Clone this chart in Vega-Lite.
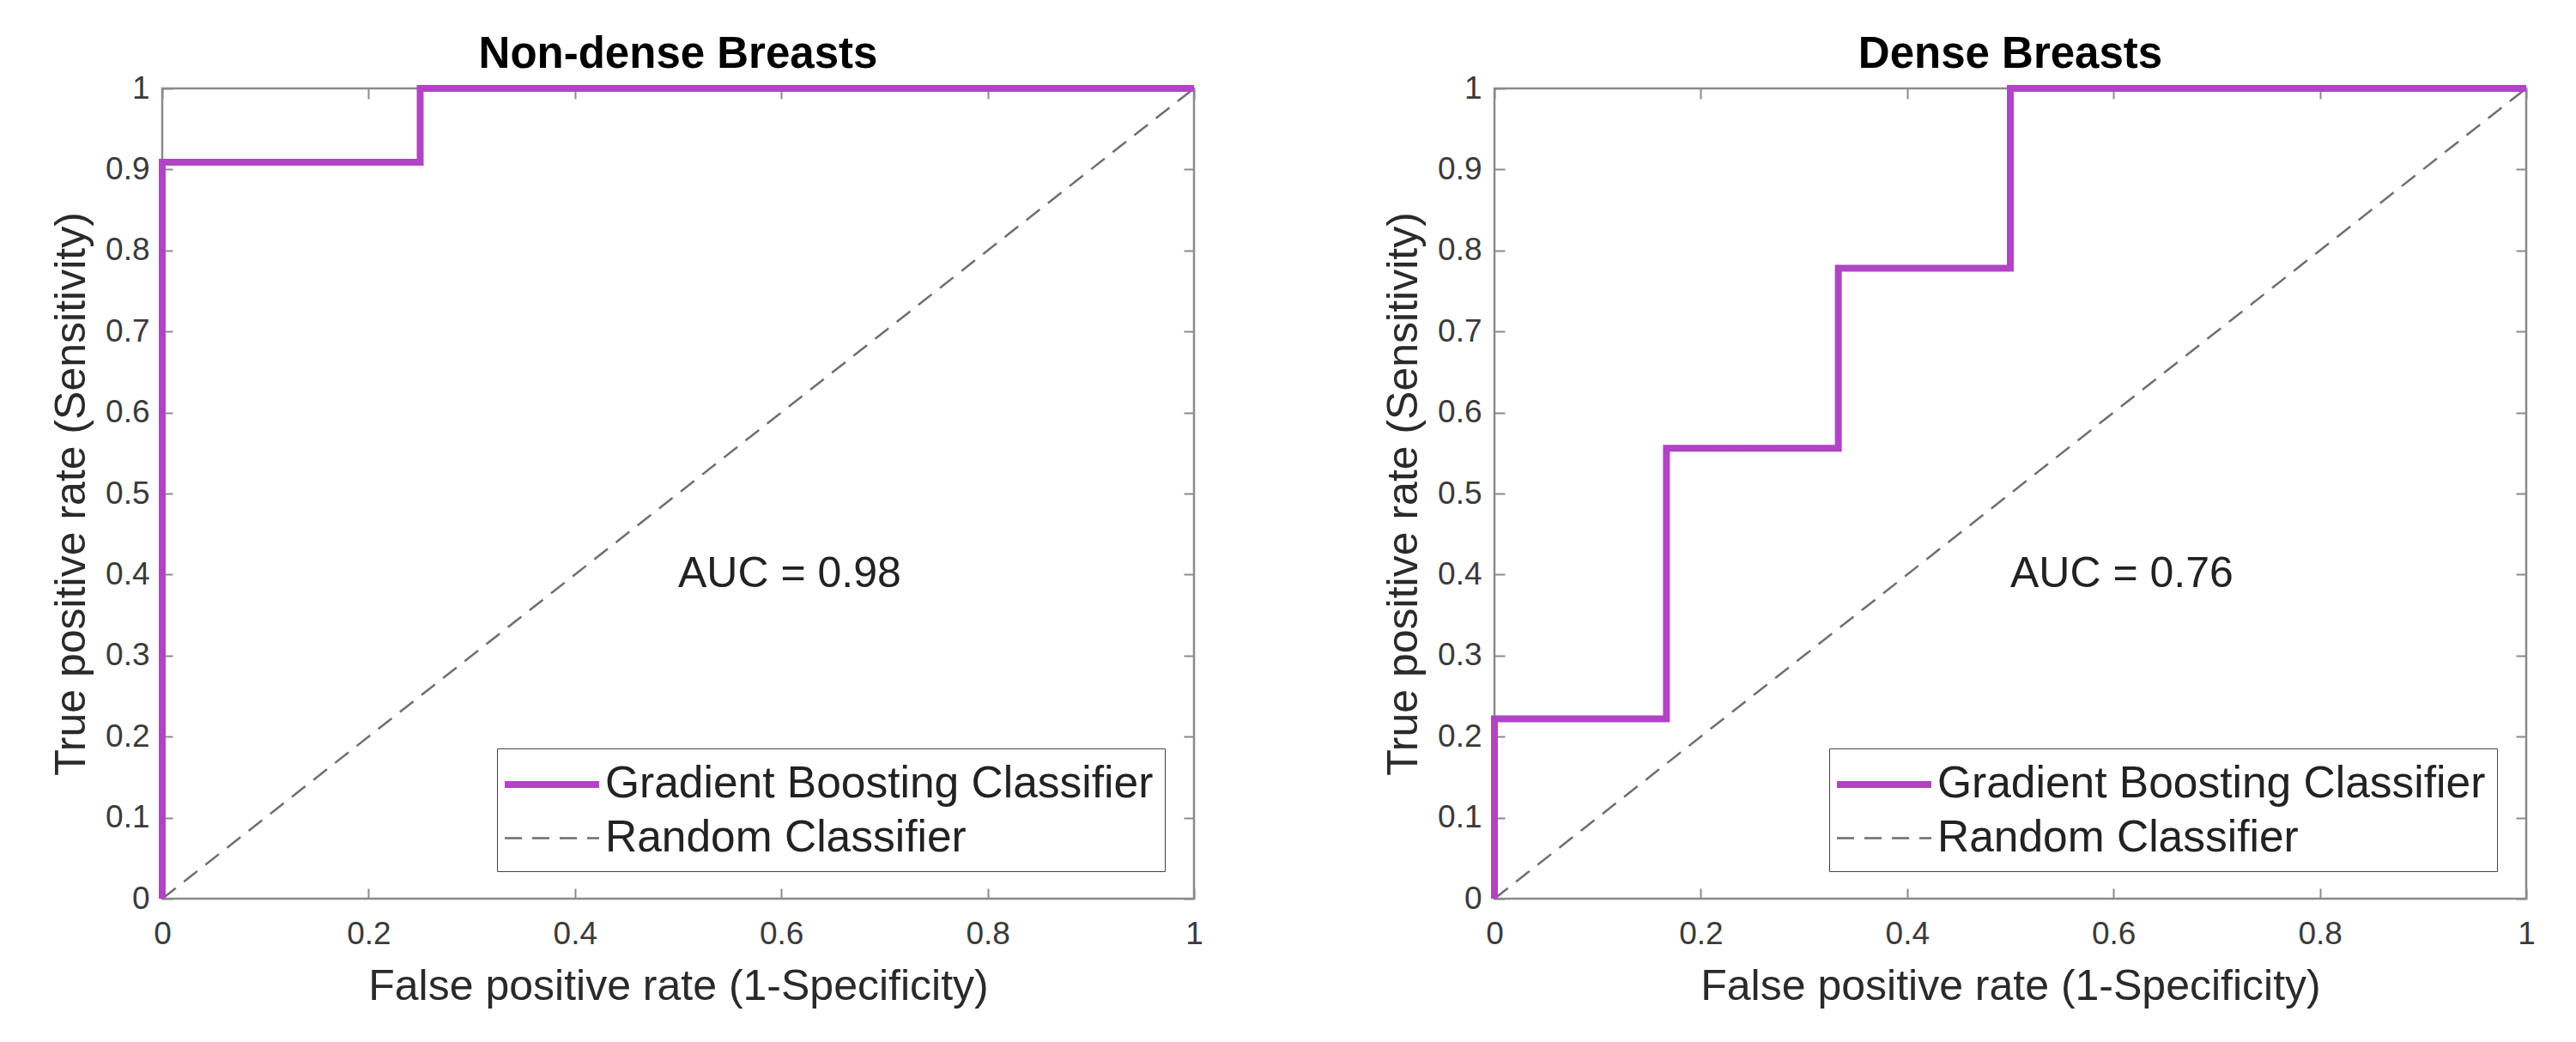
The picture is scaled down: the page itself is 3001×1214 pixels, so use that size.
{
  "$schema": "https://vega.github.io/schema/vega-lite/v6.json",
  "background": "white",
  "padding": {"left": 57, "top": 36, "right": 0, "bottom": 0},
  "datasets": {
    "nondense": [
      {"fpr": 0, "tpr": 0, "step": 0, "series": "Gradient Boosting Classifier"},
      {"fpr": 0, "tpr": 0.909, "step": 1, "series": "Gradient Boosting Classifier"},
      {"fpr": 0.25, "tpr": 0.909, "step": 2, "series": "Gradient Boosting Classifier"},
      {"fpr": 0.25, "tpr": 1, "step": 3, "series": "Gradient Boosting Classifier"},
      {"fpr": 1, "tpr": 1, "step": 4, "series": "Gradient Boosting Classifier"}
    ],
    "dense": [
      {"fpr": 0, "tpr": 0, "step": 0, "series": "Gradient Boosting Classifier"},
      {"fpr": 0, "tpr": 0.222, "step": 1, "series": "Gradient Boosting Classifier"},
      {"fpr": 0.1667, "tpr": 0.222, "step": 2, "series": "Gradient Boosting Classifier"},
      {"fpr": 0.1667, "tpr": 0.556, "step": 3, "series": "Gradient Boosting Classifier"},
      {"fpr": 0.3333, "tpr": 0.556, "step": 4, "series": "Gradient Boosting Classifier"},
      {"fpr": 0.3333, "tpr": 0.778, "step": 5, "series": "Gradient Boosting Classifier"},
      {"fpr": 0.5, "tpr": 0.778, "step": 6, "series": "Gradient Boosting Classifier"},
      {"fpr": 0.5, "tpr": 1, "step": 7, "series": "Gradient Boosting Classifier"},
      {"fpr": 1, "tpr": 1, "step": 8, "series": "Gradient Boosting Classifier"}
    ],
    "diag": [
      {"fpr": 0, "tpr": 0, "step": 0, "series": "Random Classifier"},
      {"fpr": 1, "tpr": 1, "step": 1, "series": "Random Classifier"}
    ],
    "auc_nondense": [{"fpr": 0.5, "tpr": 0.4, "label": "AUC = 0.98"}],
    "auc_dense": [{"fpr": 0.5, "tpr": 0.4, "label": "AUC = 0.76"}]
  },
  "spacing": 200,
  "hconcat": [
    {
      "width": 1202,
      "height": 944,
      "title": "Non-dense Breasts",
      "resolve": {"axis": {"x": "independent", "y": "independent"}},
      "layer": [
        {
          "data": {"name": "diag"},
          "mark": {"type": "line"},
          "encoding": {
            "x": {"field": "fpr", "type": "quantitative", "scale": {"domain": [0, 1], "nice": false},
                  "axis": {"orient": "top", "labels": false, "title": null, "values": [0, 0.2, 0.4, 0.6, 0.8, 1]}},
            "y": {"field": "tpr", "type": "quantitative", "scale": {"domain": [0, 1], "nice": false},
                  "axis": {"orient": "right", "labels": false, "title": null, "values": [0, 0.1, 0.2, 0.3, 0.4, 0.5, 0.6, 0.7, 0.8, 0.9, 1]}},
            "order": {"field": "step"},
            "color": {"field": "series", "type": "nominal", "scale": {"domain": ["Gradient Boosting Classifier", "Random Classifier"], "range": ["#b044c4", "#6e6e6e"]}},
            "strokeDash": {"field": "series", "type": "nominal", "scale": {"domain": ["Gradient Boosting Classifier", "Random Classifier"], "range": [[1, 0], [20, 12]]}},
            "strokeWidth": {"field": "series", "type": "nominal", "scale": {"domain": ["Gradient Boosting Classifier", "Random Classifier"], "range": [8, 2.5]}}
          }
        },
        {
          "data": {"name": "nondense"},
          "mark": {"type": "line"},
          "encoding": {
            "x": {"field": "fpr", "type": "quantitative", "scale": {"domain": [0, 1], "nice": false},
                  "axis": {"orient": "bottom", "format": "~g", "title": "False positive rate (1-Specificity)", "values": [0, 0.2, 0.4, 0.6, 0.8, 1]}},
            "y": {"field": "tpr", "type": "quantitative", "scale": {"domain": [0, 1], "nice": false},
                  "axis": {"orient": "left", "format": "~g", "title": "True positive rate (Sensitivity)", "values": [0, 0.1, 0.2, 0.3, 0.4, 0.5, 0.6, 0.7, 0.8, 0.9, 1]}},
            "order": {"field": "step"},
            "color": {"field": "series", "type": "nominal", "scale": {"domain": ["Gradient Boosting Classifier", "Random Classifier"], "range": ["#b044c4", "#6e6e6e"]}},
            "strokeDash": {"field": "series", "type": "nominal", "scale": {"domain": ["Gradient Boosting Classifier", "Random Classifier"], "range": [[1, 0], [20, 12]]}},
            "strokeWidth": {"field": "series", "type": "nominal", "scale": {"domain": ["Gradient Boosting Classifier", "Random Classifier"], "range": [8, 2.5]}}
          }
        },
        {
          "data": {"name": "auc_nondense"},
          "mark": {"type": "text", "align": "left", "baseline": "middle", "fontSize": 50, "font": "Liberation Sans", "color": "#222222"},
          "encoding": {
            "x": {"field": "fpr", "type": "quantitative", "axis": null},
            "y": {"field": "tpr", "type": "quantitative", "axis": null},
            "text": {"field": "label"}
          }
        }
      ]
    },
    {
      "width": 1202,
      "height": 944,
      "title": "Dense Breasts",
      "resolve": {"axis": {"x": "independent", "y": "independent"}},
      "layer": [
        {
          "data": {"name": "diag"},
          "mark": {"type": "line"},
          "encoding": {
            "x": {"field": "fpr", "type": "quantitative", "scale": {"domain": [0, 1], "nice": false},
                  "axis": {"orient": "top", "labels": false, "title": null, "values": [0, 0.2, 0.4, 0.6, 0.8, 1]}},
            "y": {"field": "tpr", "type": "quantitative", "scale": {"domain": [0, 1], "nice": false},
                  "axis": {"orient": "right", "labels": false, "title": null, "values": [0, 0.1, 0.2, 0.3, 0.4, 0.5, 0.6, 0.7, 0.8, 0.9, 1]}},
            "order": {"field": "step"},
            "color": {"field": "series", "type": "nominal", "scale": {"domain": ["Gradient Boosting Classifier", "Random Classifier"], "range": ["#b044c4", "#6e6e6e"]}},
            "strokeDash": {"field": "series", "type": "nominal", "scale": {"domain": ["Gradient Boosting Classifier", "Random Classifier"], "range": [[1, 0], [20, 12]]}},
            "strokeWidth": {"field": "series", "type": "nominal", "scale": {"domain": ["Gradient Boosting Classifier", "Random Classifier"], "range": [8, 2.5]}}
          }
        },
        {
          "data": {"name": "dense"},
          "mark": {"type": "line"},
          "encoding": {
            "x": {"field": "fpr", "type": "quantitative", "scale": {"domain": [0, 1], "nice": false},
                  "axis": {"orient": "bottom", "format": "~g", "title": "False positive rate (1-Specificity)", "values": [0, 0.2, 0.4, 0.6, 0.8, 1]}},
            "y": {"field": "tpr", "type": "quantitative", "scale": {"domain": [0, 1], "nice": false},
                  "axis": {"orient": "left", "format": "~g", "title": "True positive rate (Sensitivity)", "values": [0, 0.1, 0.2, 0.3, 0.4, 0.5, 0.6, 0.7, 0.8, 0.9, 1]}},
            "order": {"field": "step"},
            "color": {"field": "series", "type": "nominal", "scale": {"domain": ["Gradient Boosting Classifier", "Random Classifier"], "range": ["#b044c4", "#6e6e6e"]}},
            "strokeDash": {"field": "series", "type": "nominal", "scale": {"domain": ["Gradient Boosting Classifier", "Random Classifier"], "range": [[1, 0], [20, 12]]}},
            "strokeWidth": {"field": "series", "type": "nominal", "scale": {"domain": ["Gradient Boosting Classifier", "Random Classifier"], "range": [8, 2.5]}}
          }
        },
        {
          "data": {"name": "auc_dense"},
          "mark": {"type": "text", "align": "left", "baseline": "middle", "fontSize": 50, "font": "Liberation Sans", "color": "#222222"},
          "encoding": {
            "x": {"field": "fpr", "type": "quantitative", "axis": null},
            "y": {"field": "tpr", "type": "quantitative", "axis": null},
            "text": {"field": "label"}
          }
        }
      ]
    }
  ],
  "resolve": {"scale": {"color": "independent", "strokeDash": "independent", "strokeWidth": "independent"}},
  "config": {
    "font": "Liberation Sans",
    "view": {"stroke": "#8a8a8a", "strokeWidth": 2.5},
    "title": {"fontSize": 51, "fontWeight": "bold", "color": "#000000", "offset": -6, "anchor": "middle"},
    "axis": {
      "domain": false,
      "grid": false,
      "ticks": true,
      "tickSize": -12,
      "tickWidth": 2,
      "tickColor": "#8a8a8a",
      "labelFontSize": 37,
      "labelColor": "#3a3a3a",
      "labelFlush": false,
      "labelOverlap": false,
      "titleFontSize": 50,
      "titleFontWeight": "normal",
      "titleColor": "#2a2a2a"
    },
    "axisX": {"labelPadding": 35, "titlePadding": 18},
    "axisY": {"labelPadding": 27, "titlePadding": 14},
    "legend": {
      "orient": "none",
      "legendX": 390,
      "legendY": 769,
      "title": null,
      "strokeColor": "#444444",
      "fillColor": "white",
      "padding": 13,
      "labelFontSize": 51.5,
      "labelColor": "#222222",
      "labelOffset": 33,
      "rowPadding": 10,
      "symbolType": "M-2.2,0H2.2",
      "symbolSize": 2500,
      "symbolOffset": 22,
      "labelLimit": 1000
    }
  }
}
